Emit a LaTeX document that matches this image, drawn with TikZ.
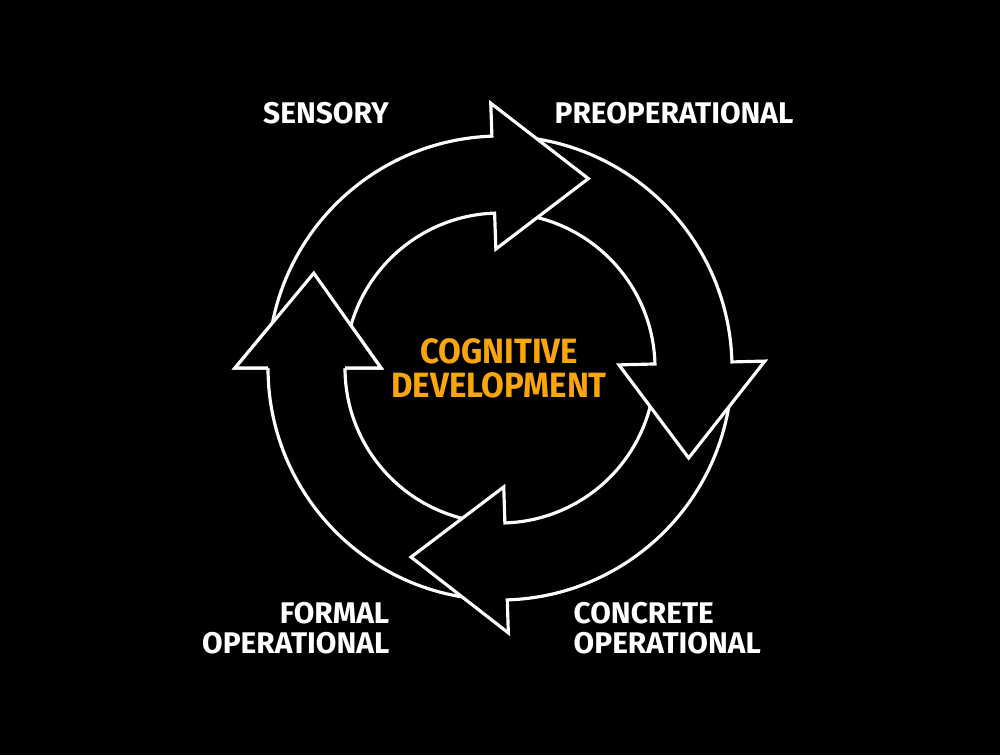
\documentclass[tikz,border=0pt]{standalone}
\usepackage{fontspec}
\setmainfont{Fira Sans}
\definecolor{cogorange}{RGB}{250,165,10}
\newcommand\Ro{2.32}
\newcommand\Ri{1.55}
\newcommand\Rwo{2.65}
\newcommand\Rwi{1.19}
\newcommand\Rt{2.09}
\newcommand\Ta{27}
\newcommand\cogarrow[2]{%
  \path[arrowshape] (#1:\Ro) arc[start angle=#1, end angle=#2, radius=\Ro]
    -- (#2:\Rwo) -- ({#2-\Ta}:\Rt) -- (#2:\Rwi) -- (#2:\Ri)
    arc[start angle=#2, end angle=#1, radius=\Ri] -- cycle;}
\begin{document}
\begin{tikzpicture}[
  arrowshape/.style={fill=black, draw=white, line width=0.9pt, line join=miter},
  lbl/.style={text=white, font=\fontsize{8.5}{8.4}\selectfont\bfseries, inner sep=0pt},
  centertxt/.style={text=cogorange, font=\fontsize{10}{9.8}\selectfont\bfseries, inner sep=0pt, align=center, xscale=0.94, transform shape}]
\fill[black] (0,0) rectangle (10,7.55);
\useasboundingbox (0,0) rectangle (10,7.55);
\begin{scope}[shift={(5,3.87)}]
  \cogarrow{-94.2}{-180}
  \cogarrow{-4.5}{-88.2}
  \cogarrow{86}{1.5}
  \cogarrow{174}{92}
  \fill[black] (-180:\Rwo) -- (-207:\Rt) -- (-180:\Rwi) -- cycle;
  \draw[white, line width=0.9pt, line join=miter] (-180:\Ro) -- (-180:\Rwo) -- (-207:\Rt) -- (-180:\Rwi) -- (-180:\Ri);
\end{scope}
\node[lbl] (sensory) at (3.26,6.42) {SENSORY};
\node[lbl] (preop) at (6.74,6.42) {PREOPERATIONAL};
\node[lbl, anchor=west, align=left] (concrete) at (5.73,1.27) {CONCRETE\\OPERATIONAL};
\node[lbl, anchor=east, align=right] (formal) at (3.90,1.27) {FORMAL\\OPERATIONAL};
\node[centertxt] (center) at (4.99,3.865) {COGNITIVE\\DEVELOPMENT};
\end{tikzpicture}
\end{document}
